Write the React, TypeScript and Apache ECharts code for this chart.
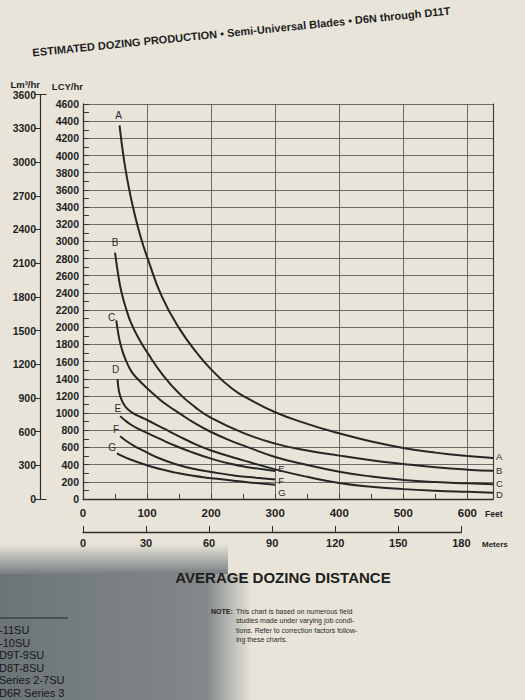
import React, { useEffect, useRef } from "react";
import * as echarts from "echarts";

// ---------- data ----------
const curveNames = ["A", "B", "C", "D", "E", "F", "G"];

// [average dozing distance (feet), production (LCY/hr)]
const curveA = [[57, 4350], [64, 3950], [71, 3650], [78, 3400], [90, 3050], [101, 2800], [123, 2360], [150, 1990], [180, 1680], [200, 1510], [232, 1290], [260, 1160], [300, 1010], [350, 875], [400, 765], [450, 670], [500, 595], [550, 540], [600, 500], [640, 478]];
const curveB = [[50, 2870], [55, 2610], [60, 2410], [68, 2200], [75, 2050], [87, 1870], [100, 1710], [125, 1440], [150, 1230], [175, 1070], [200, 945], [250, 770], [300, 645], [350, 565], [400, 505], [450, 452], [500, 408], [550, 370], [600, 342], [640, 328]];
const curveC = [[52, 2080], [55, 1930], [58, 1820], [63, 1690], [69, 1580], [76, 1480], [85, 1400], [100, 1290], [115, 1190], [130, 1100], [150, 1000], [175, 880], [200, 780], [230, 680], [255, 610], [300, 490], [350, 395], [400, 318], [450, 262], [500, 222], [550, 197], [600, 182], [640, 172]];
const curveD = [[54, 1395], [55, 1310], [57, 1230], [60, 1160], [64, 1100], [70, 1045], [78, 1000], [90, 955], [100, 920], [125, 825], [150, 730], [175, 640], [200, 565], [250, 450], [300, 345], [350, 258], [400, 187], [450, 142], [500, 115], [550, 96], [600, 83], [640, 74]];
const curveE = [[58, 965], [65, 920], [75, 865], [88, 810], [100, 770], [120, 700], [144, 620], [170, 545], [200, 470], [230, 410], [260, 368], [300, 325]];
const curveF = [[58, 731], [65, 690], [79, 622], [95, 560], [117, 480], [145, 405], [172, 352], [200, 315], [238, 272], [270, 248], [300, 228]];
const curveG = [[53, 532], [60, 505], [74, 460], [95, 405], [117, 355], [145, 307], [172, 270], [200, 243], [238, 210], [270, 187], [300, 165]];
const curves = [curveA, curveB, curveC, curveD, curveE, curveF, curveG];

// axis ticks
const feetTicks = [0, 100, 200, 300, 400, 500, 600];
const feetAxisEnd = 640;
const lcyTicks = [0, 200, 400, 600, 800, 1000, 1200, 1400, 1600, 1800, 2000, 2200, 2400, 2600, 2800, 3000, 3200, 3400, 3600, 3800, 4000, 4200, 4400, 4600];
const lm3Ticks = [0, 300, 600, 900, 1200, 1500, 1800, 2100, 2400, 2700, 3000, 3300, 3600];
const meterTicks = [0, 30, 60, 90, 120, 150, 180];
const M3_PER_LCY = 0.764555;
const FEET_PER_METER = 1 / 0.3048;

// texts
const titleText = "ESTIMATED DOZING PRODUCTION \u2022 Semi-Universal Blades \u2022 D6N through D11T";
const xAxisTitle = "AVERAGE DOZING DISTANCE";
const noteLines = [
  "This chart is based on numerous field",
  "studies made under varying job condi-",
  "tions. Refer to correction factors follow-",
  "ing these charts.",
];
const modelList = ["-11SU", "-10SU", "D9T-9SU", "D8T-8SU", "Series 2-7SU", "D6R Series 3"];

// ---------- styles ----------
const FONT = '"Liberation Sans", Arial, Helvetica, sans-serif';
const INK = "#1e1e1e";
const CURVE = "#262626";
const GRIDLINE = "#5e5e5e";
const PAPER = "#e8e4d9";

const startLabelStyle: Record<string, any> = {
  A: { position: "top", distance: 5, offset: [-1, 0] },
  B: { position: "top", distance: 5, offset: [0, 0] },
  C: { position: "left", distance: 1, offset: [0, -3] },
  D: { position: "top", distance: 5, offset: [-2, 0] },
  E: { position: "left", distance: 0, offset: [1, -8] },
  F: { position: "left", distance: 1, offset: [0, -7] },
  G: { position: "left", distance: 1, offset: [0, -6] },
};
const endLabelOffset: Record<string, number[]> = {
  A: [0, -1], B: [0, 0], C: [0, -1], D: [0, 2], E: [0, -3], F: [0, 1], G: [0, 8],
};

const plain = (v: number) => String(v);

function buildOption() {
  const G = { left: 83, top: 104, width: 410, height: 395 };
  const lcyMax = lcyTicks[lcyTicks.length - 1];
  const lm3Max = lm3Ticks[lm3Ticks.length - 1];
  const meterMax = meterTicks[meterTicks.length - 1];
  const lmHeight = (G.height * lm3Max) / (lcyMax * M3_PER_LCY);
  const lmTop = G.top + G.height - lmHeight;
  const mWidth = (G.width * meterMax * FEET_PER_METER) / feetAxisEnd;

  const labelFont = { fontFamily: FONT, color: INK, fontWeight: "bold" as const };

  const series = curveNames.map((name, i) => ({
    type: "line",
    name,
    xAxisIndex: 0,
    yAxisIndex: 0,
    smooth: 0.5,
    symbol: "none",
    showSymbol: true,
    silent: true,
    z: 3,
    color: CURVE,
    itemStyle: { color: CURVE },
    lineStyle: { color: CURVE, width: 2 },
    data: curves[i].map((p, j) =>
      j === 0
        ? {
            value: p,
            symbol: "circle",
            symbolSize: 0,
            label: {
              show: true,
              formatter: name,
              color: "#2a2a2a",
              fontSize: 10,
              fontFamily: FONT,
              ...startLabelStyle[name],
            },
          }
        : p
    ),
    endLabel: {
      show: true,
      formatter: () => name,
      color: "#2a2a2a",
      fontSize: 9.5,
      fontFamily: FONT,
      distance: 3,
      offset: endLabelOffset[name],
    },
  }));

  const shadowH = new echarts.graphic.LinearGradient(0, 0, 1, 0, [
    { offset: 0, color: "rgba(108,116,120,1)" },
    { offset: 0.82, color: "rgba(126,132,134,0.95)" },
    { offset: 1, color: "rgba(130,134,134,0)" },
  ]);
  const shadowV = new echarts.graphic.LinearGradient(0, 0, 0, 1, [
    { offset: 0, color: "rgba(120,126,128,0)" },
    { offset: 1, color: "rgba(114,122,125,0.95)" },
  ]);

  return {
    animation: false,
    backgroundColor: PAPER,
    color: [CURVE],
    tooltip: { show: false },
    grid: [
      { left: G.left, top: G.top, width: G.width, height: G.height, outerBoundsMode: "none" },
      { left: 40, top: lmTop, width: 6, height: lmHeight, outerBoundsMode: "none" },
      { left: G.left, top: 531, width: mWidth, height: 1, outerBoundsMode: "none" },
    ],
    xAxis: [
      {
        gridIndex: 0,
        type: "value",
        min: feetTicks[0],
        max: feetAxisEnd,
        interval: feetTicks[1] - feetTicks[0],
        axisLine: { show: true, onZero: false, lineStyle: { color: "#2e2e2e", width: 1.3 } },
        axisTick: { show: true, inside: true, length: 5, lineStyle: { color: "#3a3a3a" } },
        minorTick: { show: true, splitNumber: 2, length: 5, lineStyle: { color: "#3a3a3a", width: 1 } },
        splitLine: { show: true, lineStyle: { color: GRIDLINE, width: 0.9 } },
        axisLabel: {
          ...labelFont,
          fontSize: 11.5,
          margin: 8,
          formatter: (v: number) => (feetTicks.indexOf(v) >= 0 ? String(v) : ""),
        },
      },
      {
        gridIndex: 1,
        type: "value",
        min: 0,
        max: 1,
        position: "bottom",
        axisLine: { show: true, onZero: false, lineStyle: { color: "#2e2e2e", width: 1.2 } },
        axisTick: { show: false },
        axisLabel: { show: false },
        splitLine: { show: false },
      },
      {
        gridIndex: 1,
        type: "value",
        min: 0,
        max: 1,
        position: "top",
        axisLine: { show: true, onZero: false, lineStyle: { color: "#2e2e2e", width: 1.2 } },
        axisTick: { show: false },
        axisLabel: { show: false },
        splitLine: { show: false },
      },
      {
        gridIndex: 2,
        type: "value",
        min: meterTicks[0],
        max: meterMax,
        interval: meterTicks[1] - meterTicks[0],
        position: "bottom",
        axisLine: { show: true, onZero: false, lineStyle: { color: "#2e2e2e", width: 1.3 } },
        axisTick: { show: true, inside: true, length: 6, lineStyle: { color: "#2e2e2e", width: 1 } },
        axisLabel: { ...labelFont, fontSize: 11, margin: 5, formatter: plain },
        splitLine: { show: false },
      },
    ],
    yAxis: [
      {
        gridIndex: 0,
        type: "value",
        min: lcyTicks[0],
        max: lcyMax,
        interval: lcyTicks[1] - lcyTicks[0],
        name: "LCY/hr",
        nameLocation: "end",
        nameGap: 13,
        nameTextStyle: { ...labelFont, fontSize: 9.5, align: "right" },
        axisLine: { show: true, onZero: false, lineStyle: { color: "#2e2e2e", width: 1.3 } },
        axisTick: { show: true, inside: true, length: 6, lineStyle: { color: "#3a3a3a" } },
        minorTick: { show: true, splitNumber: 2, length: 6, lineStyle: { color: "#3a3a3a", width: 1 } },
        splitLine: { show: true, lineStyle: { color: GRIDLINE, width: 0.9 } },
        axisLabel: { ...labelFont, fontSize: 10.5, margin: 4, formatter: plain },
      },
      {
        gridIndex: 0,
        type: "value",
        min: lcyTicks[0],
        max: lcyMax,
        position: "right",
        axisLine: { show: true, onZero: false, lineStyle: { color: "#3a3a3a", width: 1.1 } },
        axisTick: { show: false },
        axisLabel: { show: false },
        splitLine: { show: false },
      },
      {
        gridIndex: 1,
        type: "value",
        min: lm3Ticks[0],
        max: lm3Max,
        interval: lm3Ticks[1] - lm3Ticks[0],
        position: "left",
        name: "Lm\u00b3/hr",
        nameLocation: "end",
        nameGap: Math.max(1, 13 - (G.top - lmTop)),
        nameTextStyle: { ...labelFont, fontSize: 9.5, align: "right" },
        axisLine: { show: true, onZero: false, lineStyle: { color: "#2e2e2e", width: 1.2 } },
        axisTick: { show: true, inside: false, length: 5, lineStyle: { color: "#2e2e2e" } },
        axisLabel: { ...labelFont, fontSize: 10.5, margin: 4, formatter: plain },
        splitLine: { show: false },
      },
      {
        gridIndex: 2,
        type: "value",
        min: 0,
        max: 1,
        show: false,
      },
    ],
    series,
    graphic: [
      { type: "rect", z: -10, silent: true, shape: { x: 0, y: 574, width: 252, height: 126 }, style: { fill: shadowH } },
      { type: "rect", z: -10, silent: true, shape: { x: 0, y: 544, width: 228, height: 30 }, style: { fill: shadowV } },
      {
        type: "text",
        x: 33,
        y: 58,
        rotation: 0.1,
        style: { text: titleText, fontFamily: FONT, fontSize: 11, fontWeight: "bold", fill: INK, align: "left", verticalAlign: "bottom" },
      },
      {
        type: "text",
        x: 485,
        y: 514,
        style: { text: "Feet", fontFamily: FONT, fontSize: 8.5, fontWeight: "bold", fill: INK, align: "left", verticalAlign: "middle" },
      },
      {
        type: "text",
        x: 482,
        y: 544,
        style: { text: "Meters", fontFamily: FONT, fontSize: 8, fontWeight: "bold", fill: INK, align: "left", verticalAlign: "middle" },
      },
      {
        type: "text",
        x: 283,
        y: 577,
        style: { text: xAxisTitle, fontFamily: FONT, fontSize: 15, fontWeight: "bold", fill: INK, align: "center", verticalAlign: "middle" },
      },
      {
        type: "text",
        x: 211,
        y: 611,
        style: { text: "NOTE:", fontFamily: FONT, fontSize: 7, fontWeight: "bold", fill: INK, align: "left", verticalAlign: "middle" },
      },
      ...noteLines.map((t, i) => ({
        type: "text",
        x: 236,
        y: 611 + i * 9.5,
        style: { text: t, fontFamily: FONT, fontSize: 7, fill: "#2a2a2a", align: "left", verticalAlign: "middle" },
      })),
      { type: "line", silent: true, shape: { x1: 0, y1: 618, x2: 68, y2: 618 }, style: { stroke: "#25292b", lineWidth: 1 } },
      ...modelList.map((t, i) => ({
        type: "text",
        x: -1,
        y: 630 + i * 12.6,
        style: { text: t, fontFamily: FONT, fontSize: 11, fill: "#15181a", align: "left", verticalAlign: "middle" },
      })),
    ],
  };
}

export default function App() {
  const ref = useRef<HTMLDivElement>(null);
  useEffect(() => {
    document.body.style.margin = "0";
    if (!ref.current) return;
    const chart = echarts.init(ref.current, null, { renderer: "svg" });
    chart.setOption(buildOption() as any);
    return () => {
      chart.dispose();
    };
  }, []);
  return <div ref={ref} style={{ width: 525, height: 700 }} />;
}
